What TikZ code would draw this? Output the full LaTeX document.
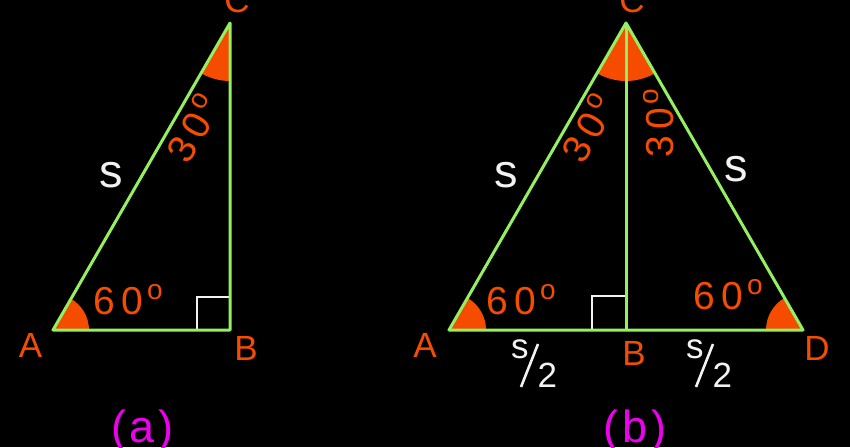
\documentclass[tikz,border=0pt]{standalone}
\usepackage{fontspec}
\setmainfont{Liberation Sans}
\usepackage{tikz}
\definecolor{d00}{rgb}{0.00, 0.00, 0.00}
\definecolor{lgr}{rgb}{0.58, 0.94, 0.38}
\definecolor{org}{rgb}{0.96, 0.30, 0.00}
\definecolor{mag}{rgb}{0.93, 0.00, 0.93}
\definecolor{wht}{rgb}{0.95, 0.95, 0.95}
\usetikzlibrary{calc}
\tikzstyle{Side} = [draw, lgr, line width=3pt, line join=round]
\tikzstyle{wedge} = [fill=org]
\tikzstyle{rtang} = [draw, wht, line width=2.5pt]
\tikzstyle{slsh} = [draw, wht, line width=2.6pt]
\tikzstyle{vtx} = [text=org, inner sep=0pt, anchor=base,
    font=\fontsize{35}{35}\selectfont]
\tikzstyle{angl} = [text=org, inner sep=0pt,
    font=\fontsize{39}{39}\selectfont]
\tikzstyle{sidel} = [text=wht, inner sep=0pt, anchor=base,
    font=\fontsize{47}{47}\selectfont]
\tikzstyle{halfl} = [text=wht, inner sep=0pt, anchor=base west,
    font=\fontsize{35}{35}\selectfont]
\tikzstyle{capt} = [text=mag, inner sep=0pt, anchor=base,
    font=\fontsize{45}{45}\selectfont]
\newcommand{\degs}[2]{#1\kern6pt#2\kern4pt\raisebox{15pt}{\fontsize{28}{28}\selectfont o}}
\newcommand{\halfs}{\raisebox{29pt}{s}\kern9pt 2}

\begin{document}
\begin{tikzpicture}[x=1pt, y=1pt]
     \fill [d00] (0,0) rectangle (850,447);
     \useasboundingbox (0,0) rectangle (850,447);
     % ><>< =================== ><>< %
     % ><><    Place corners    ><>< %
     % ><>< =================== ><>< %
     \coordinate (aA) at (53,117);
     \coordinate (aB) at (230,117);
     \coordinate (aC) at (230,424);
     \coordinate (bA) at (449,117);
     \coordinate (bB) at (626,117);
     \coordinate (bC) at (626,424);
     \coordinate (bD) at (803,117);
     % ><>< =================== ><>< %
     % ><><    Angle marks      ><>< %
     % ><>< =================== ><>< %
     \fill [wedge] (aA) -- ++(0:36) arc [start angle=0, end angle=60, radius=36] -- cycle;
     \fill [wedge] (aC) -- ++(240:58) arc [start angle=240, end angle=270, radius=58] -- cycle;
     \fill [wedge] (bA) -- ++(0:37) arc [start angle=0, end angle=60, radius=37] -- cycle;
     \fill [wedge] (bC) -- ++(240:58) arc [start angle=240, end angle=300, radius=58] -- cycle;
     \fill [wedge] (bD) -- ++(120:37) arc [start angle=120, end angle=180, radius=37] -- cycle;
     \path [rtang] (aB) ++(-33,0) -- ++(0,33) -- ++(33,0);
     \path [rtang] (bB) ++(-34,0) -- ++(0,34) -- ++(34,0);
     % ><>< =================== ><>< %
     % ><><     Draw sides      ><>< %
     % ><>< =================== ><>< %
     \path [Side] (aA) -- (aB) -- (aC) -- cycle;
     \path [Side] (bA) -- (bD) -- (bC) -- cycle;
     \path [Side] (bC) -- (bB);
     % ><>< =================== ><>< %
     % ><><      Labels         ><>< %
     % ><>< =================== ><>< %
     \node [vtx] (tA1) at (30.5,90) {A};
     \node [vtx] (tB1) at (246,87) {B};
     \node [vtx] (tC1) at (237,434) {C};
     \node [vtx] (tA2) at (425,90) {A};
     \node [vtx] (tB2) at (634,82) {B};
     \node [vtx] (tC2) at (632,434) {C};
     \node [vtx] (tD2) at (817,87) {D};
     \node [sidel] (s1) at (111,259) {s};
     \node [sidel] (s2) at (506,259) {s};
     \node [sidel] (s3) at (736,265) {s};
     \node [halfl] (h1) at (511,60) {\halfs};
     \node [halfl] (h2) at (686,60) {\halfs};
     \path [slsh] ($(h1.base west)+(10,0)$) -- ($(h1.base west)+(27,43)$);
     \path [slsh] ($(h2.base west)+(10,0)$) -- ($(h2.base west)+(27,43)$);
     \node [angl, anchor=base west] (g1) at (93.5,132) {\degs{6}{0}};
     \node [angl, anchor=base west] (g2) at (486.5,132) {\degs{6}{0}};
     \node [angl, anchor=base west] (g3) at (693.5,137) {\degs{6}{0}};
     \node [angl, rotate=60] (t1) at (193,319) {\degs{3}{0}};
     \node [angl, rotate=60] (t2) at (588,319) {\degs{3}{0}};
     \node [angl, rotate=90] (t3) at (659,324) {\degs{3}{0}};
     \node [capt] (ca) at (142.5,5) {(\kern4pt a\kern4pt)};
     \node [capt] (cb) at (635,5) {(\kern4pt b\kern4pt)};
\end{tikzpicture}
\end{document}
